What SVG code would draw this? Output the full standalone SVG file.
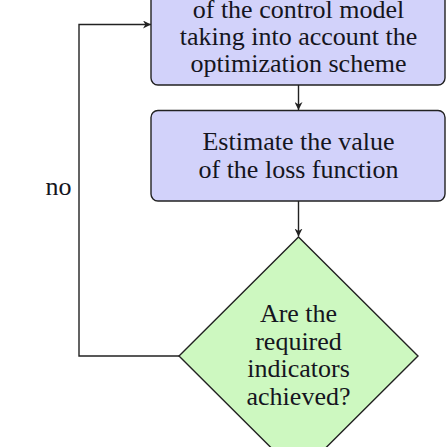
<svg xmlns="http://www.w3.org/2000/svg" width="447" height="447" viewBox="0 0 447 447">
<defs>
<marker id="arr" viewBox="0 0 10 10" refX="10" refY="5" markerWidth="8" markerHeight="8" markerUnits="userSpaceOnUse" orient="auto">
<path d="M0,0 L10,5 L0,10 L3,5 Z" fill="#222"/>
</marker>
</defs>
<style>
.box{fill:#d2d2fa;stroke:#222;stroke-width:1.4}
.dec{fill:#cdf8c0;stroke:#222;stroke-width:1.4}
.t{font-family:"Liberation Serif","DejaVu Serif",serif;font-size:26px;fill:#151520;text-anchor:middle}
.c{fill:none;stroke:#222;stroke-width:1.4}
</style>
<rect width="447" height="447" fill="#fff"/>
<g id="connectors">
<path class="c" d="M298.5,85 V110" marker-end="url(#arr)"/>
<path class="c" d="M298.5,201 V236.5" marker-end="url(#arr)"/>
<path class="c" d="M179,356 H79 V24.5 H151" marker-end="url(#arr)"/>
</g>
<g id="node-update">
<rect class="box" x="151" y="-30" width="294" height="115" rx="7"/>
<text class="t" x="298.5" y="18">of the control model</text>
<text class="t" x="298.5" y="45">taking into account the</text>
<text class="t" x="298.5" y="72">optimization scheme</text>
</g>
<g id="node-estimate">
<rect class="box" x="151" y="110.5" width="294" height="90.5" rx="7"/>
<text class="t" x="298.5" y="150">Estimate the value</text>
<text class="t" x="298.5" y="178">of the loss function</text>
</g>
<g id="node-decision">
<polygon class="dec" points="298.5,237 418,356 298.5,475 179,356"/>
<text class="t" x="298.5" y="322">Are the</text>
<text class="t" x="298.5" y="350">required</text>
<text class="t" x="298.5" y="377">indicators</text>
<text class="t" x="298.5" y="405">achieved?</text>
</g>
<g id="label-no">
<text class="t" x="58.5" y="195">no</text>
</g>
</svg>
